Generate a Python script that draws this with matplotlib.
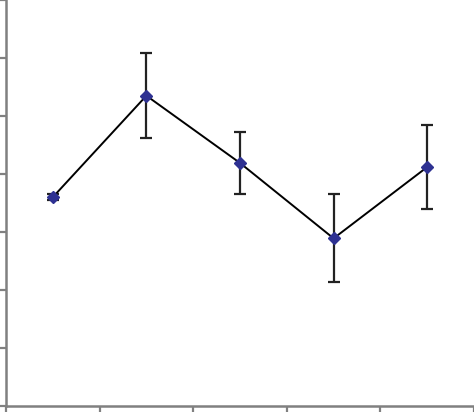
import matplotlib
matplotlib.use('Agg')
import matplotlib.pyplot as plt
import numpy as np

# data
groups = [1, 2, 3, 4, 5]
means = [3.60, 5.35, 4.19, 2.89, 4.12]
errs = [0.05, 0.73, 0.53, 0.76, 0.72]

fig = plt.figure(figsize=(4.74, 4.12), dpi=100)
ax = fig.add_axes([6/474, 6/412, 468/474, 406/412])

ax.errorbar(groups, means, yerr=errs, color='k', linewidth=1.4,
            ecolor='#222222', elinewidth=1.6, capsize=4.5, capthick=1.6,
            marker='D', markersize=6.5, markerfacecolor='#2E3192',
            markeredgecolor='#2E3192', zorder=3)

ax.set_xlim(0.5, 5.5)
ax.set_ylim(0, 7.0)
ax.set_xticks([0.5, 1.5, 2.5, 3.5, 4.5, 5.5])
ax.set_yticks([0, 1, 2, 3, 4, 5, 6, 7])
ax.set_xticklabels([])
ax.set_yticklabels([])

for s in ['top', 'right']:
    ax.spines[s].set_visible(False)
for s in ['left', 'bottom']:
    ax.spines[s].set_color('#808080')
    ax.spines[s].set_linewidth(1.8)
ax.tick_params(direction='out', length=6, width=1.6, color='#808080')

fig.savefig('out.png', dpi=100)
